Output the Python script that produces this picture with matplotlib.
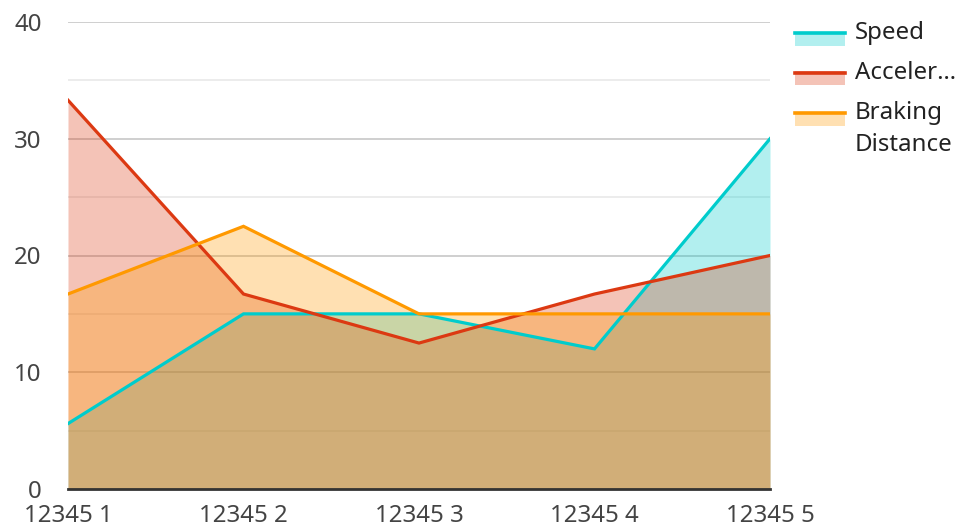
import matplotlib
matplotlib.use('Agg')
from matplotlib import pyplot as plt
from matplotlib.patches import Rectangle
from matplotlib.lines import Line2D

plt.rcParams['font.family'] = ['Noto Sans', 'DejaVu Sans']

categories = ['12345 1', '12345 2', '12345 3', '12345 4', '12345 5']
speed = [5.6, 15, 15, 12, 30]
acceleration = [33.3, 16.7, 12.5, 16.7, 20]
braking = [16.7, 22.5, 15, 15, 15]

series = [
    (speed, '#00cccc', ['Speed']),
    (acceleration, '#dc3912', ['Acceler\u2026']),
    (braking, '#ff9900', ['Braking', 'Distance']),
]

W, H = 957, 528
fig = plt.figure(figsize=(W / 100, H / 100), dpi=100)
ax = fig.add_axes([68 / W, 1 - 489 / H, (770 - 68) / W, (489 - 22) / H])

x = list(range(len(categories)))
for vals, col, _ in series:
    ax.fill_between(x, 0, vals, color=col, alpha=0.3, linewidth=0, zorder=2)
for vals, col, _ in series:
    ax.plot(x, vals, color=col, linewidth=2.3, zorder=3, solid_joinstyle='miter')

ax.set_xlim(0, 4)
ax.set_ylim(0, 40)
ax.set_xticks(x)
ax.set_xticklabels(categories)
ax.set_yticks([0, 10, 20, 30, 40])
ax.set_yticks([5, 15, 25, 35], minor=True)
ax.grid(axis='y', which='major', color='#cccccc', linewidth=1.3, zorder=0)
ax.grid(axis='y', which='minor', color='#ebebeb', linewidth=1.3, zorder=0)
ax.set_axisbelow(True)
for s in ['top', 'right', 'left']:
    ax.spines[s].set_visible(False)
ax.spines['bottom'].set_color('#333333')
ax.spines['bottom'].set_linewidth(2)
ax.spines['bottom'].set_zorder(4)
ax.tick_params(axis='both', which='both', length=0, labelsize=17.3, labelcolor='#444444')
ax.tick_params(axis='y', pad=19)
ax.tick_params(axis='x', pad=11)

# legend drawn by hand
for i, (vals, col, lines) in enumerate(series):
    yc = 33 + 40 * i
    fig.patches.append(Rectangle((795 / W, 1 - (yc + 12.5) / H), 50 / W, 14 / H,
                                 transform=fig.transFigure, facecolor=col, alpha=0.3,
                                 linewidth=0))
    fig.lines.append(Line2D([795 / W, 845 / W], [1 - yc / H, 1 - yc / H],
                            transform=fig.transFigure, color=col, linewidth=2.6))
    for j, t in enumerate(lines):
        fig.text(855 / W, 1 - (yc + 32 * j) / H, t, fontsize=17.3, color='#222222',
                 va='center', ha='left')

fig.savefig('out.png', dpi=100)
